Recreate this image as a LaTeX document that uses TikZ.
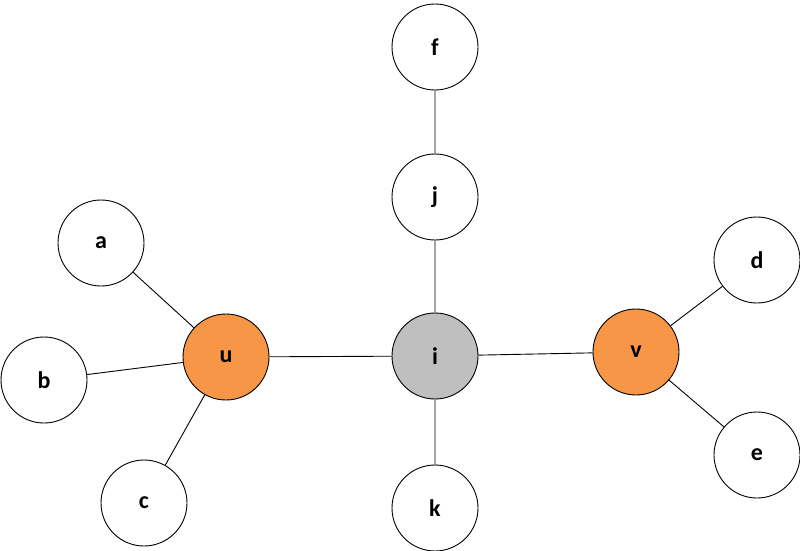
\documentclass[tikz,border=0pt]{standalone}
\usepackage{fontspec}
\setmainfont{Carlito}
\begin{document}
\begin{tikzpicture}[x=1pt,y=-1pt,
  nd/.style={circle,draw=black,line width=0.9pt,minimum size=86pt,inner sep=0pt,fill=white,font=\fontsize{24}{28}\selectfont\bfseries},
  org/.style={nd,fill={rgb,255:red,247;green,150;blue,70}},
  gry/.style={nd,fill={rgb,255:red,191;green,191;blue,191}},
  ed/.style={line width=0.9pt}]
\useasboundingbox (0,0) rectangle (800,551);
\node[nd] (f) at (435,47) {f};
\node[nd] (j) at (435,197) {j};
\node[nd] (a) at (101,243) {a};
\node[nd] (d) at (757,260) {d};
\node[org] (u) at (226,357) {u};
\node[gry] (i) at (435,356) {i};
\node[org] (v) at (636,352) {v};
\node[nd] (b) at (44,380) {b};
\node[nd] (c) at (144,503) {c};
\node[nd] (e) at (757,455) {e};
\node[nd] (k) at (435,508) {k};
\draw[ed] (f)--(j) (j)--(i) (i)--(k) (u)--(i) (i)--(v) (a)--(u) (b)--(u) (c)--(u) (v)--(d) (v)--(e);
\end{tikzpicture}
\end{document}
